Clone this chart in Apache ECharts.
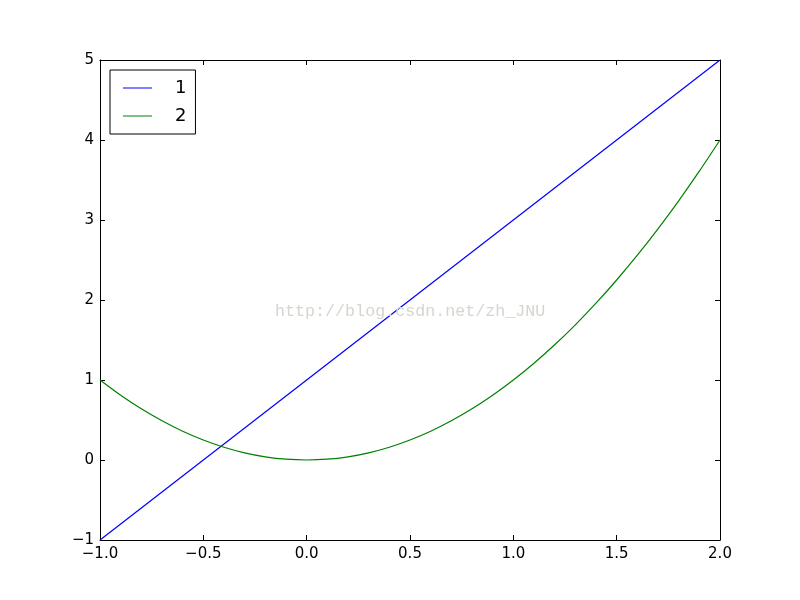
<!DOCTYPE html>
<html>
<head>
<meta charset="utf-8">
<script src="https://cdn.jsdelivr.net/npm/echarts@6/dist/echarts.min.js"></script>
<style>
html, body { margin: 0; padding: 0; background: #fff; }
#main { width: 800px; height: 600px; }
</style>
</head>
<body>
<div id="main"></div>
<script>
// 数据
var line1X = [-1, 2];
var line1Y = [-1, 5];
var curveX = [-1, -0.9, -0.8, -0.7, -0.6, -0.5, -0.4, -0.3, -0.2, -0.1, 0,
              0.1, 0.2, 0.3, 0.4, 0.5, 0.6, 0.7, 0.8, 0.9, 1,
              1.1, 1.2, 1.3, 1.4, 1.5, 1.6, 1.7, 1.8, 1.9, 2];
var curveY = [1, 0.81, 0.64, 0.49, 0.36, 0.25, 0.16, 0.09, 0.04, 0.01, 0,
              0.01, 0.04, 0.09, 0.16, 0.25, 0.36, 0.49, 0.64, 0.81, 1,
              1.21, 1.44, 1.69, 1.96, 2.25, 2.56, 2.89, 3.24, 3.61, 4];
var seriesNames = ['1', '2'];

function pairs(xs, ys) {
    var out = [];
    for (var i = 0; i < xs.length; i++) out.push([xs[i], ys[i]]);
    return out;
}
function minus(s) { return String(s).replace('-', '\u2212'); }

var myChart = echarts.init(document.getElementById('main'));

var axisBase = {
    type: 'value',
    splitLine: { show: false },
    axisLine: { onZero: false, lineStyle: { color: '#000', width: 1 } },
    axisTick: { inside: true, length: 5, lineStyle: { color: '#000' } }
};

option = {
    animation: false,
    backgroundColor: '#fff',
    grid: { left: 100, right: 80, top: 60, bottom: 60 },
    legend: {
        orient: 'vertical',
        left: 110, top: 70,
        data: seriesNames,
        icon: 'rect',
        itemWidth: 29, itemHeight: 1,
        itemGap: 10,
        padding: [9, 9, 9, 13],
        borderColor: '#000', borderWidth: 1,
        backgroundColor: '#fff',
        textStyle: { fontSize: 18, color: '#000', fontFamily: 'DejaVu Sans', padding: [0, 0, 0, 18] }
    },
    xAxis: [
        Object.assign({}, axisBase, {
            min: -1, max: 2, interval: 0.5, position: 'bottom',
            axisLabel: {
                color: '#000', fontSize: 15, fontFamily: 'DejaVu Sans', margin: 7,
                formatter: function (v) { return minus(v.toFixed(1)); }
            }
        }),
        Object.assign({}, axisBase, {
            min: -1, max: 2, interval: 0.5, position: 'top',
            axisLabel: { show: false }
        })
    ],
    yAxis: [
        Object.assign({}, axisBase, {
            min: -1, max: 5, interval: 1, position: 'left',
            axisLabel: {
                color: '#000', fontSize: 15, fontFamily: 'DejaVu Sans', margin: 6,
                formatter: function (v) { return minus(v); }
            }
        }),
        Object.assign({}, axisBase, {
            min: -1, max: 5, interval: 1, position: 'right',
            axisLabel: { show: false }
        })
    ],
    graphic: [{
        type: 'text',
        left: 275, top: 303, z: 100,
        style: {
            text: 'http://blog.csdn.net/zh_JNU',
            fill: '#d6d6cf',
            font: '16.7px "Liberation Mono"'
        }
    }],
    series: [
        {
            name: seriesNames[0], type: 'line',
            data: pairs(line1X, line1Y),
            symbol: 'none',
            lineStyle: { color: '#0000ff', width: 1.2 },
            itemStyle: { color: '#0000ff' }
        },
        {
            name: seriesNames[1], type: 'line',
            data: pairs(curveX, curveY),
            symbol: 'none', smooth: 0.3,
            lineStyle: { color: '#008000', width: 1.2 },
            itemStyle: { color: '#008000' }
        }
    ]
};

myChart.setOption(option);
</script>
</body>
</html>
